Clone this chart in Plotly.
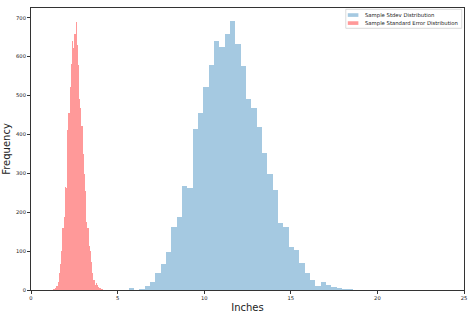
import numpy as np
import plotly.graph_objects as go

# Sample standard deviation histogram (bin start, bin width, counts)
stdev_bin_start = 5.64
stdev_bin_width = 0.308
stdev_counts = [4, 1, 3, 10, 21, 45, 67, 98, 161, 187, 267, 261, 413, 456, 522,
                579, 640, 624, 657, 691, 632, 577, 491, 469, 420, 351, 297, 256,
                173, 161, 111, 102, 70, 45, 26, 11, 20, 13, 7, 5, 2, 2, 1, 1, 1]

# Sample standard error histogram
se_bin_start = 1.26
se_bin_width = 0.0689
se_counts = [3, 2, 4, 10, 20, 44, 68, 99, 160, 188, 266, 262, 412, 455, 523,
             580, 641, 623, 658, 690, 631, 578, 492, 468, 421, 350, 298, 255,
             174, 160, 112, 101, 71, 44, 27, 12, 19, 13, 7, 5, 3, 2, 1, 1, 1]

series_names = ["Sample Stdev Distribution", "Sample Standard Error Distribution"]
series_colors = ["rgba(31,119,180,0.4)", "rgba(255,0,0,0.4)"]

x_ticks = [0, 5, 10, 15, 20, 25]
y_ticks = [0, 100, 200, 300, 400, 500, 600, 700]

stdev_centers = stdev_bin_start + stdev_bin_width * (np.arange(len(stdev_counts)) + 0.5)
se_centers = se_bin_start + se_bin_width * (np.arange(len(se_counts)) + 0.5)

fig = go.Figure()
fig.add_trace(go.Bar(
    x=stdev_centers, y=stdev_counts, width=stdev_bin_width,
    marker=dict(color=series_colors[0], line=dict(width=0)),
    name=series_names[0], showlegend=False,
))
fig.add_trace(go.Bar(
    x=se_centers, y=se_counts, width=se_bin_width,
    marker=dict(color=series_colors[1], line=dict(width=0)),
    name=series_names[1], showlegend=False,
))

axis_common = dict(
    showgrid=False, zeroline=False, showline=True, mirror=True,
    linecolor="#333333", linewidth=1, ticks="outside", ticklen=3,
    tickwidth=0.8, tickcolor="#333333", automargin=False,
    tickfont=dict(family="DejaVu Sans", size=5.2, color="#222222"),
)

# Legend drawn in matplotlib style (compact box, small patches)
fig.add_shape(type="rect", xref="paper", yref="paper",
              x0=0.727, x1=0.9947, y0=0.928, y1=0.9954,
              line=dict(color="#d0d0d0", width=0.8), fillcolor="rgba(255,255,255,0.8)",
              layer="above")
legend_y = [0.975, 0.9465]
for name, color, yy in zip(series_names, series_colors, legend_y):
    fig.add_shape(type="rect", xref="paper", yref="paper",
                  x0=0.7316, x1=0.7561, y0=yy - 0.0065, y1=yy + 0.0065,
                  line=dict(width=0), fillcolor=color, layer="above")
    fig.add_annotation(xref="paper", yref="paper", x=0.766, y=yy,
                       xanchor="left", yanchor="middle", showarrow=False,
                       text=name, font=dict(size=5.3, color="#222222"))

fig.update_layout(
    width=474, height=316,
    margin=dict(l=31, r=10, t=8, b=26),
    paper_bgcolor="white", plot_bgcolor="white",
    barmode="overlay", bargap=0,
    font=dict(family="DejaVu Sans", color="#222222"),
    xaxis=dict(range=[0, 25], tickvals=x_ticks,
               title=dict(text="Inches", font=dict(size=10), standoff=3),
               **axis_common),
    yaxis=dict(range=[0, 725], tickvals=y_ticks,
               title=dict(text="Frequency", font=dict(size=10), standoff=3),
               **axis_common),
    showlegend=False,
)

fig.write_html("out.html")
